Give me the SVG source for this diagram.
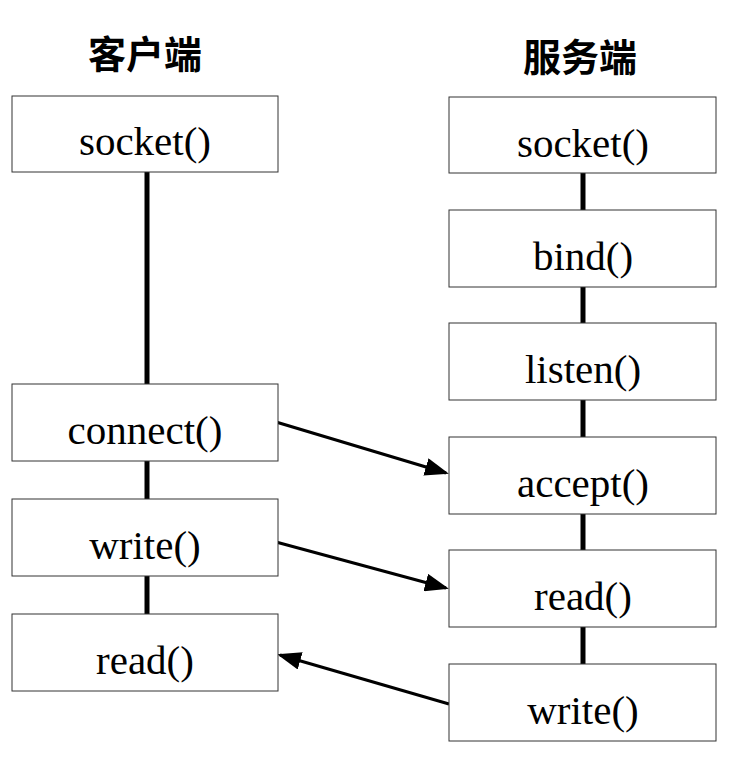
<svg xmlns="http://www.w3.org/2000/svg" width="737" height="758" viewBox="0 0 737 758">
<style>
.b{fill:#fff;stroke:#333;stroke-width:1}
.t{font-family:"Liberation Serif",serif;font-size:41px;text-anchor:middle;fill:#000}
.h{font-family:"Noto Sans CJK SC",sans-serif;font-weight:bold;font-size:38px;text-anchor:middle;fill:#000}
.v{stroke:#000;stroke-width:5}
.a{stroke:#000;stroke-width:3;marker-end:url(#m)}
</style>
<defs><marker id="m" markerWidth="8" markerHeight="6" refX="7" refY="3" orient="auto" markerUnits="strokeWidth"><path d="M0,0L8,3L0,6Z" fill="#000"/></marker></defs>
<rect width="737" height="758" fill="#fff"/>
<text class="h" x="145" y="68">客户端</text>
<text class="h" x="580" y="71">服务端</text>
<g id="connectors">
<line class="v" x1="147" y1="172" x2="147" y2="384"/>
<line class="v" x1="147" y1="461" x2="147" y2="499"/>
<line class="v" x1="147" y1="576" x2="147" y2="614"/>
<line class="v" x1="583" y1="173" x2="583" y2="210"/>
<line class="v" x1="583" y1="287" x2="583" y2="323"/>
<line class="v" x1="583" y1="400" x2="583" y2="437"/>
<line class="v" x1="583" y1="514" x2="583" y2="550"/>
<line class="v" x1="583" y1="627" x2="583" y2="664"/>
<line class="a" x1="276" y1="422" x2="446" y2="473"/>
<line class="a" x1="276" y1="542" x2="446" y2="588"/>
<line class="a" x1="449" y1="704" x2="280" y2="655"/>
</g>
<g id="c_socket"><rect class="b" x="12" y="96" width="266" height="76"/><text class="t" x="145" y="155">socket()</text></g>
<g id="c_connect"><rect class="b" x="12" y="384" width="266" height="77"/><text class="t" x="145" y="444">connect()</text></g>
<g id="c_write"><rect class="b" x="12" y="499" width="266" height="77"/><text class="t" x="145" y="559">write()</text></g>
<g id="c_read"><rect class="b" x="12" y="614" width="266" height="77"/><text class="t" x="145" y="674">read()</text></g>
<g id="s_socket"><rect class="b" x="449" y="97" width="267" height="76"/><text class="t" x="583" y="157">socket()</text></g>
<g id="s_bind"><rect class="b" x="449" y="210" width="267" height="77"/><text class="t" x="583" y="270">bind()</text></g>
<g id="s_listen"><rect class="b" x="449" y="323" width="267" height="77"/><text class="t" x="583" y="383">listen()</text></g>
<g id="s_accept"><rect class="b" x="449" y="437" width="267" height="77"/><text class="t" x="583" y="497">accept()</text></g>
<g id="s_read"><rect class="b" x="449" y="550" width="267" height="77"/><text class="t" x="583" y="610">read()</text></g>
<g id="s_write"><rect class="b" x="449" y="664" width="267" height="77"/><text class="t" x="583" y="724">write()</text></g>
</svg>
